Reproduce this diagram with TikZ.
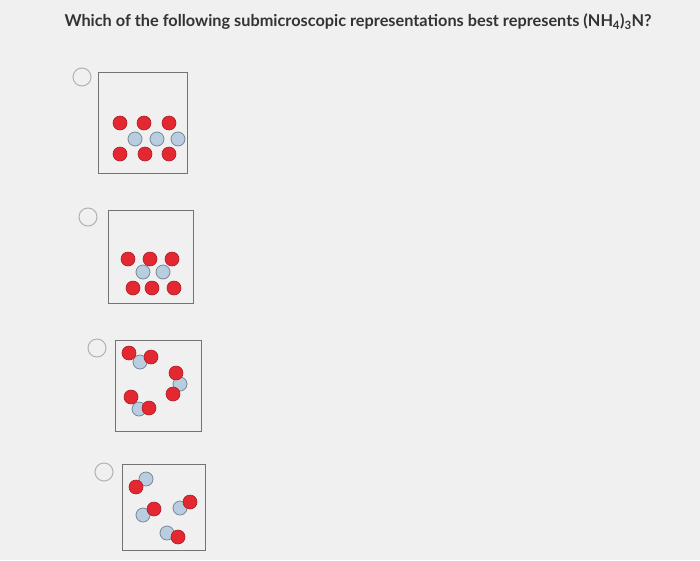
\documentclass[tikz,border=0pt]{standalone}
\usepackage{fontspec}
\setmainfont{Lato}
\begin{document}
\begin{tikzpicture}[x=1pt,y=-1pt,
  rd/.style={circle,fill={rgb,255:red,228;green,40;blue,50},draw={rgb,255:red,170;green,30;blue,40},line width=0.6pt,minimum size=14pt,inner sep=0pt},
  bl/.style={circle,fill={rgb,255:red,185;green,205;blue,225},draw={rgb,255:red,120;green,135;blue,150},line width=0.8pt,minimum size=14pt,inner sep=0pt},
  frame/.style={draw=gray!90!black,line width=1pt},
  radio/.style={circle,draw=gray!60,line width=1pt,minimum size=18pt,inner sep=0pt}]
\fill[gray!12] (0,0) rectangle (700,560);
\useasboundingbox (0,0) rectangle (700,560);
\node[anchor=west,font=\bfseries\fontsize{16.3}{18}\selectfont,text=black!80] (q) at (61,22) {Which of the following submicroscopic representations best represents (NH\textsubscript{4})\textsubscript{3}N?};
% box 1
\node[radio] (r1) at (82,77) {};
\draw[frame] (98,72) rectangle (187,173);
\foreach \x [count=\i] in {135,157,178} \node[bl] (b1\i) at (\x,139) {};
\foreach \x [count=\i] in {120,144,169} \node[rd] (t1\i) at (\x,123) {};
\foreach \x [count=\i] in {120,145,169} \node[rd] (u1\i) at (\x,154) {};
% box 2
\node[radio] (r2) at (88,217) {};
\draw[frame] (108,210) rectangle (193,303);
\foreach \x [count=\i] in {143,163} \node[bl] (b2\i) at (\x,272) {};
\foreach \x [count=\i] in {128,150,172} \node[rd] (t2\i) at (\x,259) {};
\foreach \x [count=\i] in {133,152,174} \node[rd] (u2\i) at (\x,288) {};
% box 3
\node[radio] (r3) at (97,348) {};
\draw[frame] (115,340) rectangle (201,431);
\node[bl] (c1) at (140,362) {}; \node[rd] (c1a) at (129,353) {}; \node[rd] (c1b) at (151,357) {};
\node[bl] (c2) at (180,384) {}; \node[rd] (c2a) at (176,373) {}; \node[rd] (c2b) at (173,394) {};
\node[bl] (c3) at (139,409) {}; \node[rd] (c3a) at (131,397) {}; \node[rd] (c3b) at (149,408) {};
% box 4
\node[radio] (r4) at (104,472) {};
\draw[frame] (122,464) rectangle (205,550);
\node[bl] (d1) at (146,479) {}; \node[rd] (d1a) at (136,487) {};
\node[bl] (d2) at (143,515) {}; \node[rd] (d2a) at (154,509) {};
\node[bl] (d3) at (180,508) {}; \node[rd] (d3a) at (190,502) {};
\node[bl] (d4) at (167,533) {}; \node[rd] (d4a) at (178,537) {};
\end{tikzpicture}
\end{document}
